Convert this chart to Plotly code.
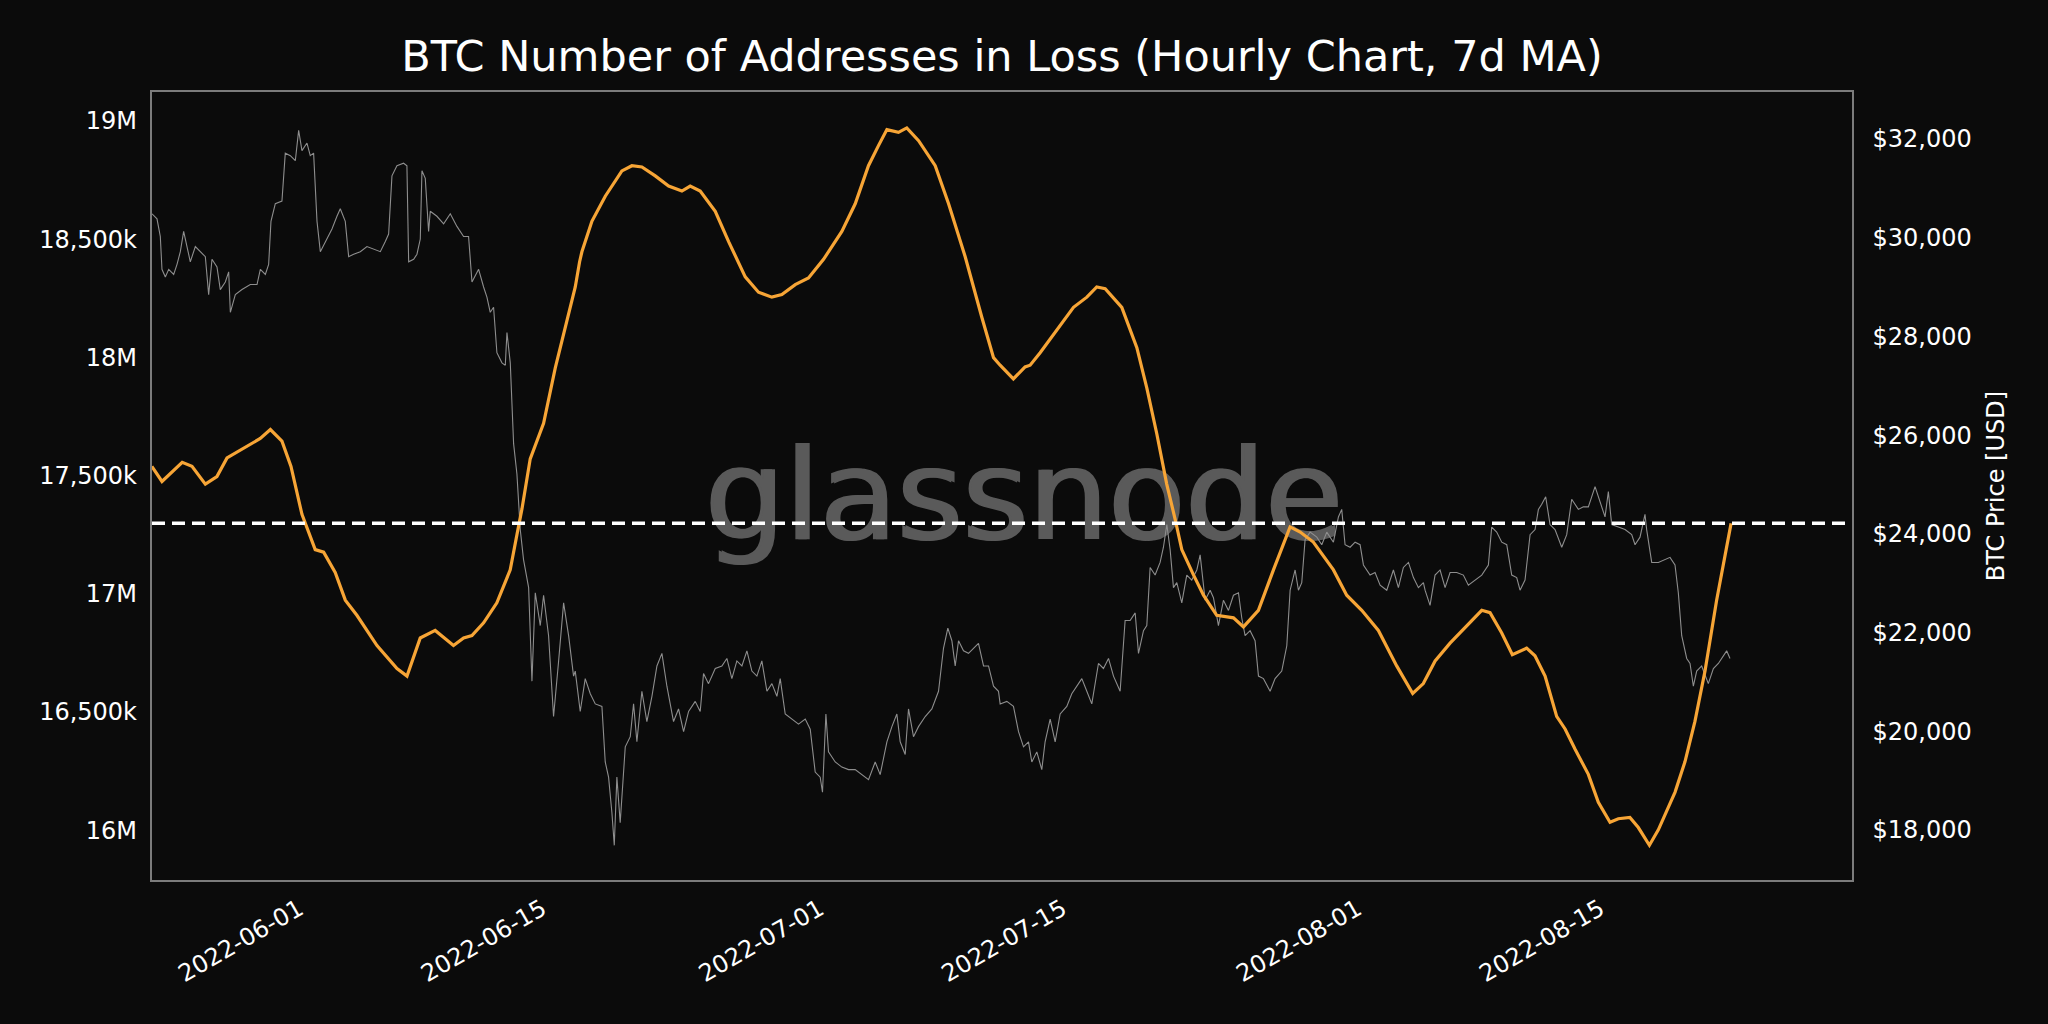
import plotly.graph_objects as go

# ---------------- data ----------------
addr_time = [
    "2022-05-23 12:00", "2022-05-24 02:00", "2022-05-25 06:00", "2022-05-25 19:30", "2022-05-26 14:00",
    "2022-05-27 06:00", "2022-05-27 20:00", "2022-05-28 23:30", "2022-05-29 18:00", "2022-05-30 08:00",
    "2022-05-31 00:00", "2022-05-31 12:30", "2022-06-01 03:40", "2022-06-01 22:00", "2022-06-02 09:40",
    "2022-06-03 01:40", "2022-06-03 15:40", "2022-06-04 07:40", "2022-06-05 11:30", "2022-06-06 15:10",
    "2022-06-07 05:00", "2022-06-07 23:20", "2022-06-08 20:00", "2022-06-09 21:20", "2022-06-10 11:20",
    "2022-06-10 22:50", "2022-06-11 15:00", "2022-06-12 09:20", "2022-06-13 03:50", "2022-06-13 13:10",
    "2022-06-13 20:00", "2022-06-14 07:30", "2022-06-15 02:00", "2022-06-15 18:10", "2022-06-16 10:20",
    "2022-06-16 21:50", "2022-06-17 03:50", "2022-06-17 07:00", "2022-06-17 20:50", "2022-06-18 15:20",
    "2022-06-19 14:20", "2022-06-20 04:10", "2022-06-20 18:00", "2022-06-21 12:30", "2022-06-22 07:00",
    "2022-06-23 01:20", "2022-06-23 12:50", "2022-06-24 02:40", "2022-06-24 23:30", "2022-06-25 18:00",
    "2022-06-26 17:00", "2022-06-27 11:20", "2022-06-28 05:50", "2022-06-28 19:40", "2022-06-29 14:10",
    "2022-06-30 08:30", "2022-07-01 05:20", "2022-07-02 06:40", "2022-07-03 01:10", "2022-07-03 19:30",
    "2022-07-04 09:20", "2022-07-04 21:00", "2022-07-05 13:00", "2022-07-06 00:30", "2022-07-06 16:50",
    "2022-07-07 15:50", "2022-07-08 10:20", "2022-07-09 09:20", "2022-07-10 08:20", "2022-07-11 00:30",
    "2022-07-11 09:40", "2022-07-12 04:00", "2022-07-12 20:10", "2022-07-13 03:10", "2022-07-13 17:00",
    "2022-07-14 11:30", "2022-07-15 15:10", "2022-07-16 09:40", "2022-07-16 23:20", "2022-07-17 11:00",
    "2022-07-18 10:00", "2022-07-19 06:50", "2022-07-19 20:40", "2022-07-20 10:20", "2022-07-21 00:10",
    "2022-07-21 11:50", "2022-07-21 21:00", "2022-07-22 13:10", "2022-07-23 03:00", "2022-07-23 21:20",
    "2022-07-24 20:30", "2022-07-25 10:20", "2022-07-26 07:00", "2022-07-27 03:50", "2022-07-28 02:50",
    "2022-07-28 16:50", "2022-07-29 11:00", "2022-07-30 14:50", "2022-07-31 09:10", "2022-08-01 06:00",
    "2022-08-02 05:00", "2022-08-03 06:20", "2022-08-04 04:30", "2022-08-04 19:10", "2022-08-05 11:30",
    "2022-08-06 08:10", "2022-08-07 04:50", "2022-08-08 04:00", "2022-08-08 15:30", "2022-08-09 07:40",
    "2022-08-09 22:20", "2022-08-10 18:10", "2022-08-11 05:40", "2022-08-11 19:40", "2022-08-12 11:40",
    "2022-08-12 23:20", "2022-08-13 13:00", "2022-08-14 07:30", "2022-08-14 21:20", "2022-08-15 13:30",
    "2022-08-16 01:00", "2022-08-16 17:00", "2022-08-17 04:40", "2022-08-17 20:00", "2022-08-18 08:20",
    "2022-08-19 07:30", "2022-08-19 21:10", "2022-08-20 11:00", "2022-08-21 01:00", "2022-08-21 17:00",
    "2022-08-22 13:00",
]
addr_in_loss = [
    17539000, 17475000, 17556000, 17539000, 17464000,
    17496000, 17575000, 17625000, 17657000, 17695000,
    17646000, 17539000, 17336000, 17187000, 17176000,
    17090000, 16973000, 16909000, 16781000, 16684000,
    16652000, 16813000, 16845000, 16781000, 16813000,
    16823000, 16877000, 16962000, 17101000, 17251000,
    17358000, 17571000, 17721000, 17956000, 18148000,
    18298000, 18405000, 18447000, 18576000, 18682000,
    18789000, 18811000, 18806000, 18768000, 18725000,
    18704000, 18725000, 18704000, 18618000, 18490000,
    18341000, 18276000, 18255000, 18266000, 18308000,
    18336000, 18415000, 18533000, 18650000, 18811000,
    18896000, 18964000, 18952000, 18971000, 18917000,
    18811000, 18650000, 18426000, 18170000, 17999000,
    17967000, 17909000, 17960000, 17967000, 18020000,
    18095000, 18212000, 18255000, 18298000, 18291000,
    18212000, 18041000, 17870000, 17678000, 17464000,
    17315000, 17187000, 17080000, 16994000, 16909000,
    16898000, 16860000, 16930000, 17101000, 17283000,
    17261000, 17219000, 17101000, 16994000, 16930000,
    16845000, 16695000, 16578000, 16620000, 16716000,
    16791000, 16855000, 16930000, 16920000, 16834000,
    16742000, 16770000, 16738000, 16652000, 16481000,
    16428000, 16343000, 16236000, 16118000, 16033000,
    16048000, 16054000, 16011000, 15936000, 16001000,
    16161000, 16289000, 16460000, 16674000, 16973000,
    17298000,
]

price_time = [
    "2022-05-23 12:12", "2022-05-23 19:06", "2022-05-23 23:42", "2022-05-24 02:00", "2022-05-24 06:39",
    "2022-05-24 11:18", "2022-05-24 18:12", "2022-05-24 22:48", "2022-05-25 03:24", "2022-05-25 08:00",
    "2022-05-25 12:36", "2022-05-25 17:12", "2022-05-26 00:09", "2022-05-26 07:06", "2022-05-26 14:00",
    "2022-05-26 18:36", "2022-05-26 23:12", "2022-05-27 06:06", "2022-05-27 10:42", "2022-05-27 17:39",
    "2022-05-27 22:18", "2022-05-28 00:36", "2022-05-28 07:30", "2022-05-28 16:42", "2022-05-29 04:12",
    "2022-05-29 13:30", "2022-05-29 18:06", "2022-05-30 01:00", "2022-05-30 05:36", "2022-05-30 08:48",
    "2022-05-30 14:48", "2022-05-31 00:00", "2022-05-31 02:18", "2022-05-31 04:36", "2022-05-31 11:36",
    "2022-05-31 18:30", "2022-05-31 23:06", "2022-06-01 03:42", "2022-06-01 10:36", "2022-06-01 15:12",
    "2022-06-01 19:48", "2022-06-02 00:30", "2022-06-02 05:06", "2022-06-02 12:00", "2022-06-02 21:12",
    "2022-06-03 04:06", "2022-06-03 08:42", "2022-06-03 15:36", "2022-06-03 20:18", "2022-06-04 03:12",
    "2022-06-04 12:24", "2022-06-04 21:36", "2022-06-05 06:48", "2022-06-05 16:06", "2022-06-05 23:00",
    "2022-06-06 03:36", "2022-06-06 08:12", "2022-06-06 15:06", "2022-06-07 00:18", "2022-06-07 04:54",
    "2022-06-07 07:18", "2022-06-07 14:12", "2022-06-07 18:48", "2022-06-07 23:24", "2022-06-08 01:42",
    "2022-06-08 06:18", "2022-06-08 10:54", "2022-06-08 13:12", "2022-06-08 22:24", "2022-06-09 07:42",
    "2022-06-09 16:54", "2022-06-10 02:06", "2022-06-10 11:18", "2022-06-10 18:12", "2022-06-10 22:54",
    "2022-06-11 08:06", "2022-06-11 15:00", "2022-06-11 19:36", "2022-06-12 00:12", "2022-06-12 04:48",
    "2022-06-12 09:24", "2022-06-12 16:24", "2022-06-12 21:00", "2022-06-12 23:18", "2022-06-13 03:54",
    "2022-06-13 08:30", "2022-06-13 13:06", "2022-06-13 17:42", "2022-06-13 22:18", "2022-06-14 05:18",
    "2022-06-14 09:54", "2022-06-14 14:30", "2022-06-14 21:24", "2022-06-15 02:00", "2022-06-15 08:54",
    "2022-06-15 15:48", "2022-06-15 22:48", "2022-06-16 05:42", "2022-06-16 12:36", "2022-06-16 19:30",
    "2022-06-16 21:48", "2022-06-17 04:42", "2022-06-17 11:36", "2022-06-17 18:36", "2022-06-18 01:30",
    "2022-06-18 10:42", "2022-06-18 15:18", "2022-06-18 19:54", "2022-06-19 00:30", "2022-06-19 03:48",
    "2022-06-19 07:24", "2022-06-19 12:00", "2022-06-19 19:00", "2022-06-20 01:54", "2022-06-20 06:30",
    "2022-06-20 11:06", "2022-06-20 18:00", "2022-06-21 00:54", "2022-06-21 07:54", "2022-06-21 14:48",
    "2022-06-21 21:42", "2022-06-22 04:36", "2022-06-22 13:48", "2022-06-22 20:42", "2022-06-23 03:42",
    "2022-06-23 10:36", "2022-06-23 19:48", "2022-06-24 02:42", "2022-06-24 07:18", "2022-06-24 14:12",
    "2022-06-24 23:30", "2022-06-25 08:42", "2022-06-25 15:36", "2022-06-25 22:30", "2022-06-26 05:24",
    "2022-06-26 12:24", "2022-06-26 19:18", "2022-06-27 02:12", "2022-06-27 09:06", "2022-06-27 16:00",
    "2022-06-27 23:00", "2022-06-28 05:54", "2022-06-28 12:48", "2022-06-28 17:24", "2022-06-29 00:18",
    "2022-06-29 09:30", "2022-06-29 18:42", "2022-06-30 04:00", "2022-06-30 10:54", "2022-06-30 17:48",
    "2022-07-01 00:42", "2022-07-01 03:54", "2022-07-01 08:36", "2022-07-01 12:12", "2022-07-01 21:30",
    "2022-07-02 06:42", "2022-07-02 15:54", "2022-07-03 01:06", "2022-07-03 10:24", "2022-07-03 19:36",
    "2022-07-04 04:48", "2022-07-04 11:42", "2022-07-04 21:00", "2022-07-05 03:54", "2022-07-05 10:48",
    "2022-07-05 15:24", "2022-07-05 22:18", "2022-07-06 02:54", "2022-07-06 09:48", "2022-07-06 16:42",
    "2022-07-07 02:00", "2022-07-07 11:12", "2022-07-07 20:24", "2022-07-08 03:18", "2022-07-08 09:18",
    "2022-07-08 14:54", "2022-07-08 19:30", "2022-07-09 00:06", "2022-07-09 07:00", "2022-07-09 13:54",
    "2022-07-09 20:48", "2022-07-10 03:42", "2022-07-10 10:42", "2022-07-10 17:36", "2022-07-11 00:30",
    "2022-07-11 07:24", "2022-07-11 09:42", "2022-07-11 18:54", "2022-07-12 04:06", "2022-07-12 11:06",
    "2022-07-12 18:00", "2022-07-13 00:54", "2022-07-13 05:30", "2022-07-13 12:24", "2022-07-13 19:18",
    "2022-07-13 23:54", "2022-07-14 06:54", "2022-07-14 13:48", "2022-07-14 20:42", "2022-07-15 05:54",
    "2022-07-15 12:48", "2022-07-15 19:48", "2022-07-16 02:42", "2022-07-16 09:36", "2022-07-16 16:30",
    "2022-07-17 01:42", "2022-07-17 08:36", "2022-07-17 15:36", "2022-07-17 22:30", "2022-07-18 07:42",
    "2022-07-18 14:36", "2022-07-18 21:30", "2022-07-19 04:30", "2022-07-19 09:06", "2022-07-19 16:00",
    "2022-07-19 20:36", "2022-07-20 01:12", "2022-07-20 08:06", "2022-07-20 15:00", "2022-07-20 19:36",
    "2022-07-21 00:18", "2022-07-21 04:54", "2022-07-21 09:30", "2022-07-21 14:06", "2022-07-21 21:00",
    "2022-07-22 03:54", "2022-07-22 10:48", "2022-07-22 17:48", "2022-07-22 22:24", "2022-07-23 05:18",
    "2022-07-23 12:12", "2022-07-23 16:48", "2022-07-23 23:42", "2022-07-24 06:36", "2022-07-24 13:36",
    "2022-07-24 20:30", "2022-07-25 03:24", "2022-07-25 08:00", "2022-07-25 12:36", "2022-07-25 19:30",
    "2022-07-26 02:24", "2022-07-26 07:06", "2022-07-26 14:00", "2022-07-26 23:12", "2022-07-27 06:06",
    "2022-07-27 15:18", "2022-07-27 22:18", "2022-07-28 02:54", "2022-07-28 09:48", "2022-07-28 14:24",
    "2022-07-28 19:00", "2022-07-28 23:36", "2022-07-29 06:30", "2022-07-29 15:48", "2022-07-29 22:42",
    "2022-07-30 05:36", "2022-07-30 14:48", "2022-07-30 21:42", "2022-07-31 02:18", "2022-07-31 06:54",
    "2022-07-31 13:54", "2022-07-31 20:48", "2022-08-01 03:42", "2022-08-01 08:18", "2022-08-01 17:30",
    "2022-08-02 00:24", "2022-08-02 07:24", "2022-08-02 16:36", "2022-08-03 01:48", "2022-08-03 08:42",
    "2022-08-03 15:36", "2022-08-03 22:36", "2022-08-04 05:30", "2022-08-04 12:24", "2022-08-04 19:18",
    "2022-08-04 21:36", "2022-08-05 04:30", "2022-08-05 11:24", "2022-08-05 18:24", "2022-08-06 01:18",
    "2022-08-06 08:12", "2022-08-06 17:24", "2022-08-07 02:36", "2022-08-07 09:30", "2022-08-07 18:48",
    "2022-08-08 04:00", "2022-08-08 13:12", "2022-08-08 17:48", "2022-08-09 00:42", "2022-08-09 07:42",
    "2022-08-09 14:36", "2022-08-09 21:30", "2022-08-10 04:24", "2022-08-10 09:00", "2022-08-10 15:54",
    "2022-08-10 22:54", "2022-08-11 05:48", "2022-08-11 10:24", "2022-08-11 15:00", "2022-08-11 20:30",
    "2022-08-12 02:30", "2022-08-12 09:24", "2022-08-12 18:42", "2022-08-13 01:36", "2022-08-13 08:30",
    "2022-08-13 17:42", "2022-08-14 00:36", "2022-08-14 07:30", "2022-08-14 16:48", "2022-08-14 23:42",
    "2022-08-15 06:36", "2022-08-15 11:12", "2022-08-15 15:48", "2022-08-16 01:00", "2022-08-16 10:18",
    "2022-08-16 19:30", "2022-08-17 00:06", "2022-08-17 07:00", "2022-08-17 13:54", "2022-08-17 16:12",
    "2022-08-17 23:12", "2022-08-18 08:24", "2022-08-18 17:36", "2022-08-19 00:30", "2022-08-19 07:24",
    "2022-08-19 12:00", "2022-08-19 16:42", "2022-08-19 23:36", "2022-08-20 04:12", "2022-08-20 08:48",
    "2022-08-20 13:24", "2022-08-20 20:18", "2022-08-21 05:30", "2022-08-21 12:30", "2022-08-21 19:24",
    "2022-08-22 02:18", "2022-08-22 06:54", "2022-08-22 11:30",
]
price_usd = [
    30485, 30383, 30024, 29359, 29205,
    29359, 29256, 29461, 29717, 30127,
    29820, 29512, 29820, 29717, 29615,
    28847, 29564, 29410, 28949, 29103,
    29308, 28489, 28847, 28949, 29052,
    29052, 29359, 29256, 29461, 30331,
    30690, 30741, 31150, 31713, 31662,
    31560, 32174, 31765, 31918, 31662,
    31713, 30331, 29717, 29922, 30178,
    30434, 30587, 30331, 29615, 29666,
    29717, 29820, 29768, 29717, 29922,
    30075, 31253, 31457, 31509, 31457,
    29512, 29564, 29666, 29973, 31355,
    31202, 30127, 30536, 30434, 30280,
    30485, 30229, 30024, 30024, 29103,
    29359, 29001, 28796, 28489, 28591,
    27670, 27465, 27414, 28079, 27465,
    25827, 25213, 24087, 23473, 22910,
    21016, 22807, 22142, 22756, 21937,
    20299, 21425, 22602, 21937, 21118,
    21220, 20401, 21067, 20760, 20555,
    20504, 19378, 19071, 18354, 17689,
    19071, 18149, 19685, 19890, 20555,
    19787, 20811, 20197, 20709, 21323,
    21579, 20913, 20197, 20453, 19992,
    20401, 20606, 20401, 21169, 20965,
    21272, 21323, 21476, 21067, 21425,
    21323, 21630, 21220, 21118, 21425,
    20811, 20965, 20709, 21067, 20350,
    20248, 20146, 20248, 20043, 19173,
    19071, 18764, 20350, 19583, 19378,
    19275, 19224, 19224, 19122, 19019,
    19378, 19122, 19787, 20094, 20350,
    19787, 19531, 20453, 19890, 20094,
    20299, 20453, 20811, 21681, 22091,
    21835, 21323, 21835, 21630, 21579,
    21681, 21783, 21323, 21323, 20913,
    20811, 20555, 20606, 20504, 19992,
    19685, 19787, 19378, 19583, 19224,
    19787, 20248, 19787, 20350, 20504,
    20760, 20913, 21067, 20811, 20555,
    21374, 21272, 21476, 21118, 20811,
    22244, 22244, 22398, 21579, 22039,
    22142, 23319, 23165, 23421, 23729,
    24189, 23677, 22910, 23012, 22602,
    23165, 23063, 23268, 23575, 22654,
    22858, 22705, 22142, 22654, 22449,
    22756, 22807, 22295, 21937, 22039,
    21835, 21118, 21067, 20811, 21067,
    21220, 21732, 22858, 23268, 22858,
    23012, 23882, 24036, 23933, 23780,
    24036, 23831, 24343, 24496, 23780,
    23729, 23831, 23780, 23370, 23165,
    23217, 22961, 22858, 23268, 22910,
    23319, 23421, 23114, 22910, 23012,
    22858, 22551, 23165, 23268, 22910,
    23217, 23217, 23165, 22961, 23063,
    23165, 23370, 24138, 24036, 23831,
    23780, 23165, 23114, 22858, 23063,
    23984, 24087, 24496, 24599, 24752,
    24189, 24087, 23729, 23984, 24701,
    24496, 24547, 24547, 24957, 24650,
    24343, 24855, 24189, 24138, 24087,
    23984, 23780, 23933, 24394, 24087,
    23421, 23421, 23473, 23524, 23370,
    22807, 21937, 21476, 21374, 20913,
    21220, 21323, 20965, 21272, 21374,
    21528, 21630, 21476,
]

x_range = ["2022-05-23 12:12", "2022-08-29 12:18"]
x_tickvals = ["2022-06-01", "2022-06-15", "2022-07-01", "2022-07-15", "2022-08-01", "2022-08-15"]

addr_range = [15789000, 19123000]
addr_tickvals = [16000000, 16500000, 17000000, 17500000, 18000000, 18500000, 19000000]
addr_ticktext = ["16M", "16,500k", "17M", "17,500k", "18M", "18,500k", "19M"]

price_range = [16987, 32952]
price_tickvals = [18000, 20000, 22000, 24000, 26000, 28000, 30000, 32000]
price_ticktext = ["${:,}".format(v) for v in price_tickvals]

title_text = "BTC Number of Addresses in Loss (Hourly Chart, 7d MA)"
watermark_text = "glassnode"

# ---------------- styles ----------------
BG = "#0b0b0b"
FONT = "DejaVu Sans"
ORANGE = "#F7A536"
GRAY = "#8e8e8e"
FRAME = "#7c7c7c"
WM_COLOR = "#5a5a5a"

fig = go.Figure()

fig.add_trace(go.Scatter(
    x=price_time, y=price_usd, mode="lines", yaxis="y",
    line=dict(color=GRAY, width=1.1), name="BTC Price", showlegend=False,
))
fig.add_trace(go.Scatter(
    x=addr_time, y=addr_in_loss, mode="lines", yaxis="y2",
    line=dict(color=ORANGE, width=3.2), name="Addresses in Loss", showlegend=False,
))

# dashed line at the latest value of the series
fig.add_shape(
    type="line", xref="paper", x0=0, x1=1, yref="y2",
    y0=addr_in_loss[-1], y1=addr_in_loss[-1],
    line=dict(color="#ffffff", width=3.5, dash="13px,7px"), layer="above",
)

# watermark beneath the lines (two slightly offset copies give a medium weight)
for dx in (0.0, 0.0018):
    fig.add_shape(
        type="rect", xref="paper", yref="paper",
        x0=0.252 + dx, x1=0.772 + dx, y0=0.389, y1=0.609,
        line=dict(width=0), fillcolor="rgba(0,0,0,0)", layer="below",
        label=dict(text=watermark_text, textposition="middle center",
                   font=dict(family=FONT, size=126, color=WM_COLOR)),
    )

fig.update_layout(
    width=2048, height=1024, autosize=False,
    paper_bgcolor=BG, plot_bgcolor=BG,
    margin=dict(l=152, r=196, t=92, b=144, autoexpand=False),
    font=dict(family=FONT, color="#ffffff", size=24),
    title=dict(text=title_text, x=0.5, xref="paper", xanchor="center",
               y=1 - 56 / 1024, yref="container", yanchor="middle",
               font=dict(family=FONT, size=43, color="#ffffff")),
    xaxis=dict(
        type="date", range=x_range, tickvals=x_tickvals, ticktext=x_tickvals,
        tickangle=-30, tickfont=dict(size=24, color="#ffffff"),
        showgrid=False, zeroline=False, showline=True, mirror=True,
        linecolor=FRAME, linewidth=1.5, ticks="", ticklabelstandoff=4,
    ),
    yaxis=dict(
        side="right", range=price_range, tickvals=price_tickvals, ticktext=price_ticktext,
        tickfont=dict(size=24, color="#ffffff"),
        title=dict(text="BTC Price [USD]", font=dict(size=24, color="#ffffff"), standoff=16),
        showgrid=False, zeroline=False, showline=True, mirror=True,
        linecolor=FRAME, linewidth=1.5, ticks="", ticklabelstandoff=14,
    ),
    yaxis2=dict(
        overlaying="y", side="left", anchor="x", range=addr_range,
        tickvals=addr_tickvals, ticktext=addr_ticktext,
        tickfont=dict(size=24, color="#ffffff"),
        showgrid=False, zeroline=False, showline=False, ticks="", ticklabelstandoff=14,
    ),
)

fig.write_html("out.html")
